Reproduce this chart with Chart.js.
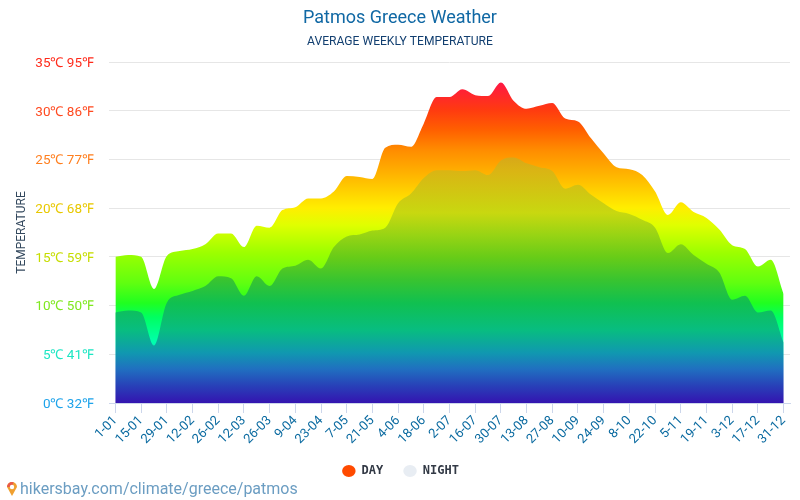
<!DOCTYPE html>
<html><head><meta charset="utf-8">
<style>html,body{margin:0;padding:0;background:#fff}#w{position:relative;width:800px;height:500px}canvas{display:block}</style>
<script src="https://cdn.jsdelivr.net/npm/chart.js@4/dist/chart.umd.min.js"></script>
</head><body><div id="w"><canvas id="c" width="800" height="500"></canvas></div>
<script>
const categories=['1-01','8-01','15-01','22-01','29-01','5-02','12-02','19-02','26-02','5-03','12-03','19-03','26-03','2-04','9-04','16-04','23-04','30-04','7-05','14-05','21-05','28-05','4-06','11-06','18-06','25-06','2-07','9-07','16-07','23-07','30-07','6-08','13-08','20-08','27-08','3-09','10-09','17-09','24-09','1-10','8-10','15-10','22-10','29-10','5-11','12-11','19-11','26-11','3-12','10-12','17-12','24-12','31-12'];
const dayTemps=[15,15.2,15,11.7,15.1,15.6,15.8,16.3,17.4,17.4,16,18.2,18,19.8,20.1,21,21,21.7,23.3,23.2,23,26.2,26.5,26.3,28.7,31.4,31.4,32.2,31.6,31.5,32.9,31,30.2,30.5,30.8,29.2,28.9,27.2,25.6,24.2,24,23.4,21.7,19.3,20.6,19.6,19,17.8,16.2,15.8,14,14.7,11.2];
const nightTemps=[9.3,9.5,9.3,5.9,10.3,11.1,11.5,12,13,12.8,11,13,12,13.8,14.1,14.7,13.8,16,17.1,17.3,17.7,18,20.5,21.5,23.1,23.9,23.9,23.8,23.9,23.4,24.9,25.2,24.6,24.2,23.8,22,22.4,21.4,20.5,19.7,19.4,18.8,18,15.4,16.3,15.2,14.3,13.4,10.6,11,9.3,9.5,6.2];
const yTicks=[0,5,10,15,20,25,30,35];
const yLabels=['0℃ 32℉','5℃ 41℉','10℃ 50℉','15℃ 59℉','20℃ 68℉','25℃ 77℉','30℃ 86℉','35℃ 95℉'];
const yColors=['#1ea3ea','#1de6c3','#7fe81f','#c6dd00','#e8c800','#ff7f1f','#ff4a20','#ff2a1a'];
const seriesNames=['DAY','NIGHT'];
const legendColors=['#ff4a00','#e8edf3'];
const dayStops=[[0,'#ff0a58'],[.067,'#ff1a40'],[.14,'#ff3a10'],[.2,'#ff6000'],[.258,'#ff8c00'],[.33,'#ffb400'],[.428,'#ffee00'],[.478,'#e0ff00'],[.56,'#9cff00'],[.648,'#60ff10'],[.707,'#20ff20'],[.748,'#00ff60'],[.824,'#00ffb0'],[.9,'#2070c0'],[1,'#3414b0']];
const nightStops=[[.28,'#d8a818'],[.317,'#dab414'],[.443,'#c8d810'],[.507,'#98d414'],[.572,'#68cc18'],[.64,'#38c430'],[.707,'#10c050'],[.786,'#08bd80'],[.853,'#1098b0'],[.9,'#2070c0'],[.95,'#2840b8'],[1,'#3414b0']];
function grad(stops){return ctx=>{const a=ctx.chart.chartArea;if(!a)return '#0c0';const g=ctx.chart.ctx.createLinearGradient(0,a.top,0,a.bottom);stops.forEach(s=>g.addColorStop(s[0],s[1]));return g;};}
new Chart(document.getElementById('c'),{type:'line',
 data:{labels:categories,datasets:[
  {label:seriesNames[0],data:dayTemps,backgroundColor:grad(dayStops),borderWidth:0,pointRadius:0,fill:'origin',cubicInterpolationMode:'monotone',order:1},
  {label:seriesNames[1],data:nightTemps,backgroundColor:grad(nightStops),borderWidth:0,pointRadius:0,fill:'origin',cubicInterpolationMode:'monotone',order:0}]},
 options:{responsive:false,animation:false,
  layout:{padding:{left:11,right:10,top:62,bottom:13}},
  plugins:{title:{display:false},tooltip:{enabled:false},
   legend:{position:'bottom',labels:{usePointStyle:true,pointStyle:'circle',boxHeight:8.5,pointStyleWidth:13.5,padding:20,color:'#333a46',font:{family:'"DejaVu Sans Mono"',size:12,weight:'bold'},
     generateLabels(){return seriesNames.map((n,i)=>({text:n,fillStyle:legendColors[i],strokeStyle:legendColors[i],lineWidth:0,pointStyle:'circle',datasetIndex:i,fontColor:'#333a46'}));}}}},
  scales:{
   x:{offset:true,grid:{display:true,drawOnChartArea:false,color:'#ccd6eb',tickLength:10},border:{color:'#ccd6eb'},
    afterBuildTicks(ax){ax.ticks=ax.ticks.filter((t,i)=>i%2===0);},
    afterFit(ax){ax.height=42;},
    ticks:{autoSkip:false,maxRotation:45,minRotation:45,color:'#0a6aa0',font:{family:'Roboto',size:13},padding:0,callback(v){return categories[v];}}},
   y:{min:0,max:35,afterBuildTicks(ax){ax.ticks=yTicks.map(v=>({value:v}));},
    title:{display:true,text:'TEMPERATURE',color:'#34495e',font:{family:'Roboto',size:12},padding:{top:4,bottom:0}},
    grid:{color:'#e6e6e6',tickLength:0,drawTicks:false},border:{display:false},
    afterFit(ax){ax.width=98;},
    ticks:{padding:15,labelOffset:1.5,color(c){return yColors[yTicks.indexOf(c.tick.value)];},font:{family:'Roboto',size:13.5},callback(v){return yLabels[yTicks.indexOf(v)];}}}
  }},
 plugins:[{id:'txt',afterDraw(ch){const c=ch.ctx;c.save();c.textBaseline='middle';c.textAlign='center';
   c.fillStyle='#1068a4';c.font='18px Roboto';c.fillText('Patmos Greece Weather',400,18);
   c.fillStyle='#123f70';c.font='12.1px Roboto';c.fillText('AVERAGE WEEKLY TEMPERATURE',400,42);
   c.textAlign='left';
   c.font='16px Roboto';c.fillStyle='#6b9dc2';c.fillText('hikersbay.com/climate/greece/patmos',20,489.5);
   c.fillStyle='#f0a030';c.beginPath();c.arc(12,487,5,Math.PI,0);c.lineTo(12,496);c.closePath();c.fill();c.fillStyle='#e85a4a';c.beginPath();c.arc(12,487,5,Math.PI,1.6*Math.PI);c.lineTo(12,487);c.closePath();c.fill();c.fillStyle='#fff';c.beginPath();c.arc(12,487,2.2,0,7);c.fill();
   c.restore();}}]
});
</script></body></html>
